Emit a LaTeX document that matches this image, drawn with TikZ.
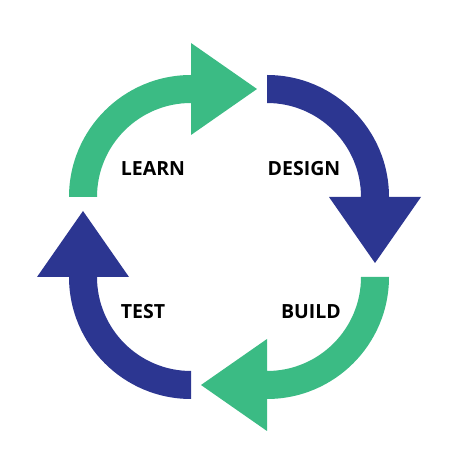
\documentclass[tikz,border=0pt]{standalone}
\usepackage{fontspec}
\setmainfont{Open Sans}
\usepackage{tikz}
\usetikzlibrary{calc}

\definecolor{cycgreen}{RGB}{59,187,132}
\definecolor{cycblue}{RGB}{44,54,145}

\begin{document}
\begin{tikzpicture}[
  x=1pt, y=1pt,
  lbl/.style={
    font=\fontsize{19.5}{22}\selectfont\bfseries, text=black,
    inner sep=0pt
  },
]
\useasboundingbox (0,0) rectangle (474,474);

\coordinate (c1) at (191,277);
\coordinate (c2) at (267,277);
\coordinate (c3) at (267,197);
\coordinate (c4) at (191,197);

% learn -> design
\fill[cycgreen, shift={(c1)}]
  (180:122) arc[start angle=180, end angle=90, radius=122]
  -- ++(0,32) -- ++(66,-46) -- ++(-66,-46) -- ++(0,32)
  arc[start angle=90, end angle=180, radius=94] -- cycle;
% design -> build
\fill[cycblue, shift={(c2)}, rotate=-90]
  (180:122) arc[start angle=180, end angle=90, radius=122]
  -- ++(0,32) -- ++(66,-46) -- ++(-66,-46) -- ++(0,32)
  arc[start angle=90, end angle=180, radius=94] -- cycle;
% build -> test
\fill[cycgreen, shift={(c3)}, rotate=180]
  (180:122) arc[start angle=180, end angle=90, radius=122]
  -- ++(0,32) -- ++(66,-46) -- ++(-66,-46) -- ++(0,32)
  arc[start angle=90, end angle=180, radius=94] -- cycle;
% test -> learn
\fill[cycblue, shift={(c4)}, rotate=90]
  (180:122) arc[start angle=180, end angle=90, radius=122]
  -- ++(0,32) -- ++(66,-46) -- ++(-66,-46) -- ++(0,32)
  arc[start angle=90, end angle=180, radius=94] -- cycle;

\node[lbl] (learn)  at (153,305) {LEARN};
\node[lbl] (design) at (304,305) {DESIGN};
\node[lbl] (build)  at (311,162) {BUILD};
\node[lbl] (test)   at (143,162) {TEST};
\end{tikzpicture}
\end{document}
